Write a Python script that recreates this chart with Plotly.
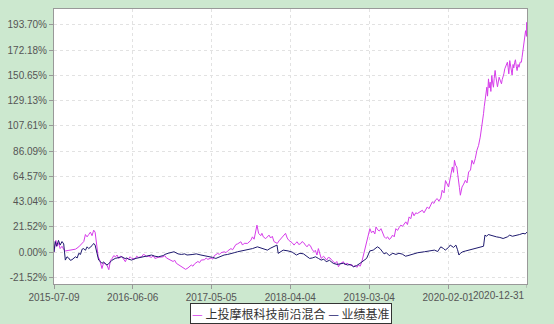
import plotly.graph_objects as go

# ---------------- data ----------------
fund_dates = [
    "2015-07-09", "2015-07-14", "2015-07-17", "2015-07-22", "2015-07-28", "2015-08-04", "2015-08-12",
    "2015-08-20", "2015-08-27", "2015-09-10", "2015-09-24", "2015-10-08", "2015-10-22", "2015-11-05",
    "2015-11-12", "2015-11-19", "2015-11-26", "2015-12-03", "2015-12-10", "2015-12-17", "2015-12-24",
    "2015-12-30", "2016-01-05", "2016-01-12", "2016-01-19", "2016-01-28", "2016-02-04", "2016-02-18",
    "2016-02-26", "2016-03-04", "2016-03-11", "2016-03-18", "2016-03-25", "2016-04-01", "2016-04-08",
    "2016-04-15", "2016-04-22", "2016-04-29", "2016-05-06", "2016-05-13", "2016-05-19", "2016-05-26",
    "2016-06-02", "2016-06-16", "2016-06-23", "2016-06-30", "2016-07-14", "2016-07-21", "2016-07-28",
    "2016-08-04", "2016-08-11", "2016-08-25", "2016-09-01", "2016-09-08", "2016-09-22", "2016-10-13",
    "2016-10-20", "2016-10-27", "2016-11-10", "2016-11-24", "2016-12-01", "2016-12-08", "2016-12-15",
    "2016-12-22", "2017-01-05", "2017-01-16", "2017-01-26", "2017-02-09", "2017-02-16", "2017-02-23",
    "2017-03-09", "2017-03-16", "2017-03-23", "2017-04-06", "2017-04-13", "2017-04-20", "2017-05-04",
    "2017-05-11", "2017-05-18", "2017-06-01", "2017-06-08", "2017-06-15", "2017-06-29", "2017-07-06",
    "2017-07-13", "2017-07-27", "2017-08-03", "2017-08-10", "2017-08-17", "2017-08-24", "2017-09-07",
    "2017-09-14", "2017-09-21", "2017-10-05", "2017-10-12", "2017-10-19", "2017-10-26", "2017-11-02",
    "2017-11-09", "2017-11-14", "2017-11-21", "2017-11-30", "2017-12-05", "2017-12-11", "2017-12-21",
    "2018-01-04", "2018-01-11", "2018-01-18", "2018-01-25", "2018-02-08", "2018-02-15", "2018-02-22",
    "2018-03-01", "2018-03-08", "2018-03-15", "2018-03-22", "2018-03-29", "2018-04-12", "2018-04-20",
    "2018-04-26", "2018-05-03", "2018-05-10", "2018-05-17", "2018-05-24", "2018-05-31", "2018-06-07",
    "2018-06-14", "2018-06-21", "2018-06-28", "2018-07-05", "2018-07-13", "2018-07-19", "2018-07-26",
    "2018-08-01", "2018-08-06", "2018-08-13", "2018-08-23", "2018-09-05", "2018-09-12", "2018-09-19",
    "2018-09-27", "2018-10-11", "2018-10-18", "2018-10-25", "2018-11-01", "2018-11-08", "2018-11-15",
    "2018-11-22", "2018-11-29", "2018-12-06", "2018-12-13", "2018-12-20", "2018-12-28", "2019-01-04",
    "2019-01-11", "2019-01-18", "2019-01-25", "2019-02-01", "2019-02-14", "2019-02-21", "2019-02-28",
    "2019-03-07", "2019-03-14", "2019-03-21", "2019-03-28", "2019-04-02", "2019-04-09", "2019-04-16",
    "2019-04-23", "2019-04-30", "2019-05-07", "2019-05-14", "2019-05-21", "2019-05-28", "2019-06-04",
    "2019-06-11", "2019-06-18", "2019-06-25", "2019-07-02", "2019-07-09", "2019-07-16", "2019-07-23",
    "2019-07-30", "2019-08-06", "2019-08-13", "2019-08-20", "2019-08-27", "2019-09-03", "2019-09-10",
    "2019-09-17", "2019-09-24", "2019-10-08", "2019-10-15", "2019-10-22", "2019-10-29", "2019-11-05",
    "2019-11-12", "2019-11-19", "2019-11-26", "2019-12-03", "2019-12-10", "2019-12-17", "2019-12-24",
    "2020-01-01", "2020-01-07", "2020-01-15", "2020-01-21", "2020-02-03", "2020-02-10", "2020-02-19",
    "2020-02-24", "2020-02-28", "2020-03-04", "2020-03-09", "2020-03-13", "2020-03-17", "2020-03-20",
    "2020-03-24", "2020-03-27", "2020-03-31", "2020-04-07", "2020-04-14", "2020-04-21", "2020-04-28",
    "2020-05-06", "2020-05-12", "2020-05-19", "2020-05-26", "2020-06-02", "2020-06-09", "2020-06-16",
    "2020-06-23", "2020-06-30", "2020-07-03", "2020-07-07", "2020-07-10", "2020-07-14", "2020-07-17",
    "2020-07-21", "2020-07-24", "2020-07-28", "2020-07-31", "2020-08-04", "2020-08-07", "2020-08-11",
    "2020-08-14", "2020-08-18", "2020-08-21", "2020-08-25", "2020-08-28", "2020-09-04", "2020-09-09",
    "2020-09-14", "2020-09-17", "2020-09-21", "2020-09-24", "2020-09-28", "2020-10-09", "2020-10-12",
    "2020-10-15", "2020-10-19", "2020-10-22", "2020-10-26", "2020-10-29", "2020-11-02", "2020-11-05",
    "2020-11-09", "2020-11-12", "2020-11-16", "2020-11-19", "2020-11-23", "2020-11-27", "2020-12-02",
    "2020-12-07", "2020-12-10", "2020-12-14", "2020-12-17", "2020-12-21", "2020-12-25", "2020-12-29",
    "2020-12-30", "2020-12-31",
]
fund_values = [
    0.0, 6.0, 10.0, 5.0, 8.0, 3.0, 5.0,
    2.0, 1.0, 1.5, 1.7, 2.5, 4.5, 7.0,
    9.0, 15.0, 13.0, 15.0, 17.0, 14.0, 18.7,
    17.0, 8.0, -4.0, -7.0, -14.0, -9.0, -11.0,
    -15.0, -7.0, -5.4, -3.0, -4.0, -2.5, -5.5,
    -3.5, -4.0, -6.0, -8.2, -5.0, -6.0, -4.0,
    -5.4, -6.0, -3.5, -4.5, -4.0, -2.0, -2.5,
    -4.0, -3.5, -4.5, -3.0, -5.4, -4.5, -4.0,
    -3.0, -5.0, -6.5, -8.0, -7.0, -9.6, -10.5,
    -11.5, -13.0, -14.7, -13.5, -11.0, -12.0, -10.0,
    -8.0, -9.0, -6.8, -6.5, -5.0, -6.2, -5.0,
    -6.0, -3.0, -1.1, -2.0, -0.5, 0.3, -0.5,
    1.0, 3.0, 2.0, 4.5, 6.5, 7.0, 8.8,
    6.0, 7.5, 7.4, 9.0, 10.0, 13.0, 11.0,
    18.0, 23.0, 16.0, 14.0, 16.0, 13.0, 11.5,
    14.5, 12.0, 13.5, 9.0, 7.4, 9.5, 11.0,
    13.0, 14.5, 16.0, 12.0, 10.0, 8.0, 6.0,
    7.5, 8.8, 6.5, 7.0, 9.0, 8.0, 6.0,
    4.5, 6.5, 5.5, 2.5, 0.3, 1.5, -2.5,
    3.0, -1.0, -5.4, -3.5, -6.8, -4.5, -5.0,
    -7.0, -9.6, -8.0, -12.5, -10.0, -9.0, -8.2,
    -11.0, -9.5, -10.0, -11.5, -10.5, -12.5, -11.5,
    -13.0, -11.0, -12.0, -8.2, 1.7, 8.0, 13.0,
    20.0, 16.5, 18.0, 15.5, 21.5, 19.0, 18.0,
    20.0, 16.0, 13.0, 11.6, 13.0, 10.8, 12.0,
    14.5, 13.0, 20.0, 18.5, 21.0, 23.0, 22.0,
    24.0, 25.8, 23.5, 30.0, 28.5, 34.3, 31.0,
    33.5, 32.9, 35.0, 35.7, 33.5, 36.5, 38.5,
    37.0, 40.0, 42.8, 41.5, 44.5, 45.6, 43.5,
    46.0, 52.7, 50.5, 61.0, 55.5, 64.0, 72.6,
    68.0, 78.3, 74.0, 72.6, 66.0, 61.2, 55.0,
    48.5, 53.0, 55.5, 58.0, 61.2, 59.0, 68.3,
    70.0, 78.3, 75.0, 79.7, 86.8, 91.0, 98.0,
    106.6, 118.0, 124.0, 129.3, 136.0, 140.6, 133.0,
    147.7, 140.0, 144.9, 137.0, 150.6, 145.0, 140.6,
    148.0, 154.9, 150.0, 146.3, 141.0, 149.1, 145.0,
    143.5, 147.0, 149.0, 152.0, 156.3, 161.9, 157.6,
    152.0, 163.3, 158.0, 154.8, 151.0, 160.0, 157.0,
    161.9, 164.0, 158.0, 154.8, 160.0, 157.6, 162.0,
    161.9, 166.0, 171.8, 178.0, 186.0, 188.8, 184.0,
    195.9, 189.0,
]

bench_dates = [
    "2015-07-09", "2015-07-14", "2015-07-20", "2015-07-28", "2015-08-04", "2015-08-12", "2015-08-19",
    "2015-08-26", "2015-09-02", "2015-09-09", "2015-09-16", "2015-09-23", "2015-10-08", "2015-10-15",
    "2015-10-22", "2015-10-29", "2015-11-05", "2015-11-12", "2015-11-19", "2015-11-26", "2015-12-03",
    "2015-12-10", "2015-12-17", "2015-12-24", "2015-12-30", "2016-01-07", "2016-01-14", "2016-01-21",
    "2016-01-28", "2016-02-04", "2016-02-18", "2016-02-25", "2016-03-03", "2016-03-10", "2016-03-24",
    "2016-04-07", "2016-04-21", "2016-05-05", "2016-05-12", "2016-05-19", "2016-06-02", "2016-06-16",
    "2016-06-30", "2016-07-14", "2016-07-28", "2016-08-11", "2016-08-25", "2016-09-08", "2016-09-22",
    "2016-10-13", "2016-10-20", "2016-11-03", "2016-11-17", "2016-11-28", "2016-12-15", "2016-12-29",
    "2017-01-12", "2017-01-22", "2017-02-16", "2017-03-02", "2017-03-22", "2017-04-06", "2017-04-20",
    "2017-05-10", "2017-05-24", "2017-06-08", "2017-06-28", "2017-07-13", "2017-07-27", "2017-08-10",
    "2017-08-24", "2017-09-14", "2017-10-05", "2017-10-26", "2017-11-16", "2017-11-30", "2017-12-14",
    "2017-12-28", "2018-01-12", "2018-01-24", "2018-02-07", "2018-02-12", "2018-02-26", "2018-03-05",
    "2018-03-26", "2018-04-12", "2018-04-30", "2018-05-15", "2018-05-30", "2018-06-12", "2018-06-25",
    "2018-07-06", "2018-07-20", "2018-08-02", "2018-08-13", "2018-08-24", "2018-09-03", "2018-09-17",
    "2018-10-03", "2018-10-19", "2018-10-30", "2018-11-15", "2018-12-02", "2018-12-14", "2018-12-28",
    "2019-01-10", "2019-01-24", "2019-02-11", "2019-02-21", "2019-03-07", "2019-03-21", "2019-04-08",
    "2019-04-19", "2019-05-06", "2019-05-16", "2019-05-28", "2019-06-12", "2019-06-25", "2019-07-08",
    "2019-07-22", "2019-08-05", "2019-08-15", "2019-08-29", "2019-09-12", "2019-09-26", "2019-10-24",
    "2019-11-14", "2019-12-05", "2019-12-19", "2020-01-01", "2020-01-13", "2020-01-20", "2020-02-03",
    "2020-02-10", "2020-02-24", "2020-03-05", "2020-03-12", "2020-03-18", "2020-03-24", "2020-04-03",
    "2020-04-16", "2020-05-01", "2020-05-14", "2020-05-28", "2020-06-10", "2020-06-22", "2020-06-30",
    "2020-07-06", "2020-07-13", "2020-07-20", "2020-07-27", "2020-08-10", "2020-08-24", "2020-09-07",
    "2020-09-21", "2020-10-09", "2020-10-19", "2020-10-30", "2020-11-16", "2020-11-30", "2020-12-14",
    "2020-12-23", "2020-12-31",
]
bench_values = [
    0.0, 9.0, 5.0, 10.0, 6.0, 9.0, 7.0,
    -6.8, -4.0, -5.0, -7.0, -6.5, -4.0, -5.0,
    -1.0, -2.0, 2.5, 3.0, 1.5, 4.5, 3.0,
    4.0, 5.5, 7.4, 6.0, -1.0, -6.8, -8.0,
    -9.6, -8.5, -11.0, -10.0, -8.2, -7.0, -5.4,
    -5.0, -4.0, -5.5, -5.0, -6.0, -6.8, -5.5,
    -5.0, -4.5, -3.5, -3.0, -2.5, -3.5, -4.0,
    -3.0, -2.0, -1.0, -0.5, 0.3, -1.5, -2.0,
    -1.5, -2.5, -2.0, -1.5, -2.5, -3.0, -4.0,
    -4.5, -5.4, -4.0, -2.5, -2.0, -1.5, -0.5,
    0.3, 1.0, 2.3, 3.0, 4.5, 3.5, 2.3,
    1.7, 3.5, 5.0, 6.0, -1.1, 0.5, 1.7,
    1.0, 0.0, -2.5, -1.0, -1.5, -3.5, -5.4,
    -5.0, -4.0, -5.5, -6.8, -6.0, -8.2, -7.0,
    -9.6, -10.5, -10.0, -9.5, -11.0, -10.5, -12.5,
    -11.5, -9.6, -7.0, -5.4, 1.0, 1.7, 4.5,
    3.0, -1.5, -0.5, -3.0, -1.0, -2.0, -1.0,
    -1.7, -3.5, -3.0, -2.0, -1.1, -0.5, 0.3,
    1.0, 1.7, 0.5, 4.5, 3.0, 1.7, 4.0,
    6.0, 4.0, 6.0, 2.0, -2.5, -1.0, 0.3,
    1.0, 1.7, 2.5, 3.1, 3.5, 4.5, 5.0,
    14.5, 13.5, 15.0, 14.5, 13.5, 13.0, 12.5,
    11.6, 13.0, 14.5, 13.5, 14.0, 15.0, 16.0,
    15.5, 17.0,
]

y_tick_values = [-21.52, 0.00, 21.52, 43.04, 64.57, 86.09, 107.61, 129.13, 150.65, 172.18, 193.70]
y_tick_labels = ["-21.52%", "0.00%", "21.52%", "43.04%", "64.57%", "86.09%", "107.61%",
                 "129.13%", "150.65%", "172.18%", "193.70%"]
x_tick_values = ["2015-07-09", "2016-06-06", "2017-05-05", "2018-04-04", "2019-03-04",
                 "2020-02-01", "2020-12-31"]

series_names = ["上投摩根科技前沿混合", "业绩基准"]
fund_color = "#D63CEA"
bench_color = "#1E1A6E"

# ---------------- figure ----------------
fig = go.Figure()
fig.add_trace(go.Scatter(x=fund_dates, y=fund_values, mode="lines", name=series_names[0],
                         line=dict(color=fund_color, width=1)))
fig.add_trace(go.Scatter(x=bench_dates, y=bench_values, mode="lines", name=series_names[1],
                         line=dict(color=bench_color, width=1)))

tick_font = dict(family="Liberation Sans, Arial, sans-serif", size=10, color="#555555")

fig.update_layout(
    width=554, height=324,
    margin=dict(l=50, r=27, t=8, b=40),
    paper_bgcolor="#CCE8CF",
    plot_bgcolor="#FFFFFF",
    showlegend=False,
    xaxis=dict(
        type="date",
        range=[x_tick_values[0], x_tick_values[-1]],
        tickvals=x_tick_values[:-1],
        ticktext=x_tick_values[:-1],
        tickfont=tick_font,
        showgrid=True, gridcolor="#E2E2E2", griddash="dot", gridwidth=1,
        showline=True, linecolor="#999999", linewidth=1, mirror=True,
        ticks="outside", ticklen=4, tickcolor="#999999",
        zeroline=False, fixedrange=True,
    ),
    yaxis=dict(
        range=[-27.2, 207.3],
        tickvals=y_tick_values,
        ticktext=y_tick_labels,
        tickfont=tick_font,
        showgrid=True, gridcolor="#E2E2E2", griddash="dot", gridwidth=1,
        showline=True, linecolor="#999999", linewidth=1, mirror=True,
        ticks="outside", ticklen=4, tickcolor="#999999",
        zeroline=False, fixedrange=True,
    ),
)

# last x label, right-aligned to the plot edge as in the reference
fig.add_annotation(x=x_tick_values[-1], y=0, xref="x", yref="paper", yanchor="top",
                   xanchor="right", yshift=-4, showarrow=False,
                   text=x_tick_values[-1], font=tick_font)
fig.add_shape(type="line", xref="x", yref="paper", x0=x_tick_values[-1], x1=x_tick_values[-1],
              y0=0, y1=-0.014, line=dict(color="#999999", width=1))

# legend as a bordered text box
legend_text = (f'<span style="color:{fund_color}">—</span> {series_names[0]} '
               f'<span style="color:{bench_color}">—</span> {series_names[1]}')
fig.add_annotation(x=0.5, y=-0.068, xref="paper", yref="paper", xanchor="center", yanchor="top",
                   showarrow=False, text=legend_text,
                   font=dict(family="Noto Sans CJK SC, sans-serif", size=12, color="#333333"),
                   bgcolor="#FFFFFF", bordercolor="#333333", borderwidth=1, borderpad=1)

fig.write_html("out.html")
